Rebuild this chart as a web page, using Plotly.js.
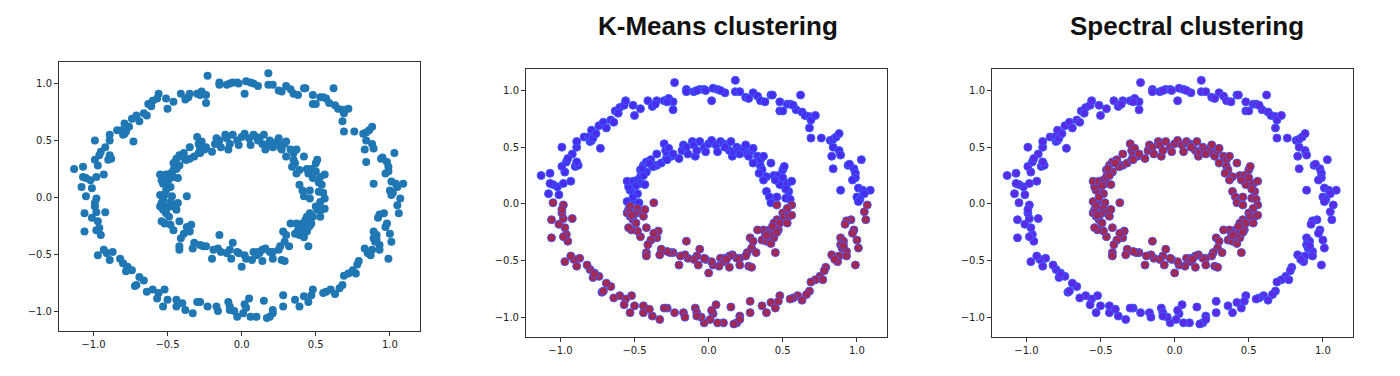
<!DOCTYPE html>
<html><head><meta charset="utf-8">
<script src="https://cdn.plot.ly/plotly-3.0.1.min.js"></script>
<style>html,body{margin:0;padding:0;background:#fff}#chart{width:1400px;height:376px}</style>
</head><body><div id="chart"></div>
<script>
// Outer ring, upper half (K-Means cluster A)
const outerUpperX = [-0.23,-0.15,-0.15,-0.10,-0.06,-0.03,-0.02,0.03,0.06,0.11,0.02,0.18,0.18,0.21,0.25,0.30,0.33,0.35,0.38,0.42,0.43,0.48,0.48,0.50,0.53,0.55,0.59,0.62,0.63,0.65,0.68,0.69,0.72,0.68,0.69,0.76,0.82,0.84,0.86,0.88,0.84,0.83,0.88,0.89,0.84,0.94,0.98,1.03,0.99,0.99,0.97,0.89,1.01,1.04,1.09,1.05,1.00,1.02,1.01,
  -1.08,-1.01,-1.02,-1.05,-1.07,-1.13,-1.07,-0.98,-0.93,-0.97,-0.99,-0.96,-0.90,-0.88,-0.89,-0.92,-0.89,-0.89,-0.99,-0.95,-0.84,-0.81,-0.80,-0.79,-0.78,-0.73,-0.79,-0.74,-0.71,-0.69,-0.66,-0.64,-0.63,-0.60,-0.57,-0.56,-0.51,-0.50,-0.46,-0.41,-0.38,-0.35,-0.30,-0.27,-0.24,-0.24,-0.28,-0.36,
  -0.08,0.08,0.27,0.57,0.95,-0.61,-0.76];
const outerUpperY = [1.07,1.01,0.99,0.99,1.01,1.01,1.00,1.02,1.01,0.98,0.91,1.09,0.99,0.99,0.94,0.98,0.95,0.91,0.90,0.96,0.96,0.90,0.82,0.82,0.88,0.88,0.83,0.96,0.81,0.78,0.77,0.74,0.78,0.67,0.58,0.58,0.56,0.57,0.59,0.62,0.50,0.42,0.47,0.43,0.31,0.34,0.31,0.39,0.27,0.23,0.21,0.12,0.14,0.12,0.12,0.09,0.06,0.04,0.02,
  0.09,0.08,0.15,0.17,0.18,0.25,0.27,0.18,0.20,0.28,0.33,0.37,0.33,0.34,0.37,0.44,0.50,0.55,0.50,0.40,0.59,0.59,0.55,0.56,0.58,0.49,0.65,0.69,0.72,0.67,0.74,0.72,0.82,0.85,0.87,0.91,0.87,0.78,0.84,0.91,0.86,0.91,0.91,0.93,0.90,0.83,0.90,0.88,
  1.00,1.00,0.93,0.87,0.35,0.80,0.62];
// Outer ring, lower half (K-Means cluster B)
const outerLowerX = [1.07,1.05,1.06,0.96,0.93,0.92,0.98,0.97,0.89,0.91,0.89,0.90,1.00,1.01,0.93,0.88,0.83,0.93,0.87,0.99,0.79,0.78,0.75,0.77,0.72,0.69,0.68,0.66,0.60,0.57,0.55,0.63,0.48,0.47,0.42,0.45,0.39,0.36,0.28,0.28,0.21,0.19,0.17,0.15,0.10,0.06,0.05,0.03,0.02,0.01,-0.03,-0.05,-0.09,-0.08,-0.08,-0.17,-0.16,-0.23,-0.28,-0.30,-0.33,-0.38,-0.44,-0.44,-0.50,-0.53,-0.52,-0.56,-0.57,-0.60,-0.64,-0.66,-0.69,-0.72,-0.71,-0.74,-0.77,-0.78,-0.80,-0.82,-0.87,-0.89,-0.91,-0.93,-0.97,-0.95,-0.96,-0.98,-0.97,-1.01,-0.92,-0.98,-0.99,-0.98,-1.06,-1.06,-1.05,
  0.91,0.85,0.21,-0.40,-0.77,-0.99];
const outerLowerY = [-0.01,-0.07,-0.14,-0.14,-0.15,-0.18,-0.23,-0.26,-0.30,-0.33,-0.36,-0.39,-0.32,-0.39,-0.42,-0.46,-0.45,-0.46,-0.51,-0.54,-0.56,-0.59,-0.64,-0.67,-0.67,-0.69,-0.77,-0.80,-0.81,-0.83,-0.84,-0.85,-0.81,-0.86,-0.87,-0.92,-0.96,-0.90,-0.86,-0.96,-0.99,-1.05,-1.06,-0.91,-1.05,-1.05,-0.89,-0.97,-0.94,-1.02,-1.05,-1.00,-0.92,-0.96,-0.99,-0.96,-1.00,-0.96,-0.92,-0.92,-1.02,-0.99,-0.96,-0.90,-0.90,-0.96,-0.81,-0.84,-0.89,-0.81,-0.83,-0.73,-0.70,-0.78,-0.77,-0.64,-0.61,-0.65,-0.58,-0.54,-0.48,-0.55,-0.49,-0.46,-0.51,-0.33,-0.27,-0.29,-0.21,-0.18,-0.13,-0.13,-0.08,-0.01,-0.14,-0.30,0.01,
  -0.37,-0.49,-1.02,-0.93,-0.62,-0.05];
// Inner ring, upper half
const innerUpperX = [-0.30,-0.29,-0.27,-0.28,-0.25,-0.24,-0.20,-0.18,-0.17,-0.15,-0.14,-0.11,-0.10,-0.09,-0.08,-0.06,-0.03,-0.02,0.00,0.02,0.05,0.06,0.08,0.10,0.12,0.14,0.15,0.16,0.17,0.19,0.20,0.21,0.24,0.25,0.26,0.27,0.29,0.30,0.30,0.33,0.35,0.37,0.35,0.36,0.42,0.34,0.39,0.37,0.44,0.47,0.50,0.51,0.48,0.53,0.56,0.50,0.39,0.41,0.42,0.46,
  0.52,0.54,0.55,
  -0.47,-0.52,-0.55,-0.50,-0.53,-0.54,-0.55,-0.51,-0.48,-0.46,-0.43,-0.46,-0.46,-0.44,-0.42,-0.39,-0.37,-0.35,-0.32,-0.29,-0.28,-0.42,-0.44,-0.38,-0.48,-0.51,-0.35,
  -0.49,-0.45,-0.40,0.11,0.45,0.52];
const innerUpperY = [0.53,0.47,0.49,0.43,0.42,0.44,0.40,0.47,0.52,0.50,0.44,0.55,0.52,0.42,0.47,0.55,0.50,0.46,0.53,0.56,0.52,0.46,0.55,0.53,0.52,0.47,0.55,0.42,0.46,0.50,0.47,0.44,0.49,0.52,0.44,0.42,0.47,0.49,0.36,0.42,0.39,0.42,0.33,0.30,0.36,0.27,0.24,0.21,0.25,0.25,0.30,0.33,0.17,0.18,0.20,0.23,0.11,0.06,0.01,0.06,
  0.05,0.11,0.04,
  0.01,0.02,0.02,0.09,0.12,0.15,0.20,0.20,0.21,0.18,0.17,0.24,0.30,0.34,0.37,0.39,0.33,0.34,0.36,0.39,0.39,0.28,0.25,0.33,0.09,0.06,0.44,
  0.16,0.31,0.36,0.50,0.21,0.13];
// Inner ring, lower half
const innerLowerX = [0.46,0.56,0.53,0.50,0.51,0.54,0.56,0.46,0.44,0.48,0.53,0.47,0.45,0.43,0.41,0.37,0.38,0.36,0.39,0.42,0.44,0.33,0.28,0.30,0.29,0.32,0.45,0.26,0.25,0.21,0.19,0.16,0.14,0.11,0.08,0.10,0.07,0.14,0.21,0.27,0.29,0.03,0.00,0.02,-0.02,-0.03,-0.06,-0.08,-0.10,-0.07,-0.14,-0.15,-0.16,-0.19,-0.20,-0.24,-0.26,-0.28,-0.32,-0.33,-0.35,-0.34,-0.37,-0.39,-0.41,-0.42,-0.42,-0.46,-0.48,-0.52,-0.54,-0.51,-0.53,-0.55,-0.54,-0.53,-0.48,-0.46,-0.44,-0.43,-0.37,-0.53,-0.42,-0.50,0.40,0.43,
  0.42,0.46,0.39,-0.52,-0.49,0.12];
const innerLowerY = [-0.01,-0.01,-0.04,-0.08,-0.11,-0.11,-0.10,-0.14,-0.17,-0.17,-0.17,-0.23,-0.26,-0.29,-0.23,-0.23,-0.29,-0.32,-0.33,-0.35,-0.30,-0.23,-0.30,-0.33,-0.39,-0.43,-0.43,-0.43,-0.46,-0.48,-0.48,-0.45,-0.46,-0.48,-0.48,-0.51,-0.55,-0.56,-0.54,-0.55,-0.56,-0.54,-0.61,-0.51,-0.49,-0.48,-0.40,-0.46,-0.49,-0.54,-0.48,-0.33,-0.45,-0.46,-0.54,-0.43,-0.43,-0.42,-0.40,-0.45,-0.30,-0.24,-0.26,-0.32,-0.36,-0.43,-0.46,-0.29,-0.24,-0.23,-0.21,-0.14,-0.11,-0.08,-0.05,-0.02,-0.04,-0.08,-0.11,-0.05,0.01,-0.07,-0.21,-0.09,-0.26,-0.20,
  -0.27,-0.25,-0.28,-0.10,-0.17,-0.49];

const panelTitles = ["", "K-Means clustering", "Spectral clustering"];
const tickValues = [-1.0, -0.5, 0.0, 0.5, 1.0];

const BLUE_FILL = '#4a2cf0', BLUE_EDGE = '#3b5cff';
const RED_CENTER = '#d8101c', RED_OUTER = '#7a3c78';
const MSIZE = 8;

function blueMarker(c){ return {size:MSIZE, color:c, line:{color:BLUE_EDGE, width:1}}; }
function redMarker(){ return {size:MSIZE, color:RED_CENTER, gradient:{type:'radial', color:RED_OUTER}, line:{color:BLUE_EDGE, width:1}}; }

const allX = outerUpperX.concat(outerLowerX, innerUpperX, innerLowerX);
const allY = outerUpperY.concat(outerLowerY, innerUpperY, innerLowerY);

const traces = [
  {x:allX, y:allY, xaxis:'x', yaxis:'y', type:'scatter', mode:'markers', marker:{size:MSIZE, color:'#1f77b4', line:{width:0}}},
  // K-Means
  {x:outerUpperX.concat(innerUpperX), y:outerUpperY.concat(innerUpperY), xaxis:'x2', yaxis:'y2', type:'scatter', mode:'markers', marker:blueMarker(BLUE_FILL)},
  {x:outerLowerX.concat(innerLowerX), y:outerLowerY.concat(innerLowerY), xaxis:'x2', yaxis:'y2', type:'scatter', mode:'markers', marker:redMarker()},
  // Spectral
  {x:outerUpperX.concat(outerLowerX), y:outerUpperY.concat(outerLowerY), xaxis:'x3', yaxis:'y3', type:'scatter', mode:'markers', marker:blueMarker('#5a2ae8')},
  {x:innerUpperX.concat(innerLowerX), y:innerUpperY.concat(innerLowerY), xaxis:'x3', yaxis:'y3', type:'scatter', mode:'markers', marker:redMarker()}
];

const W = 1400, H = 376;
function xa(l, r){
  return {domain:[l/W, r/W], range:[-1.232, 1.203], showgrid:false, zeroline:false, showline:true, mirror:true,
    linecolor:'#333', linewidth:1, ticks:'outside', ticklen:4, tickwidth:1, tickcolor:'#333',
    tickvals:tickValues, tickformat:'.1f', tickfont:{family:'DejaVu Sans', size:10, color:'#222'}, fixedrange:true};
}
function ya(t, b, anchor){
  const o = xa(0, 1);
  o.domain = [1 - b/H, 1 - t/H];
  o.range = [-1.175, 1.19];
  o.anchor = anchor;
  return o;
}
const layout = {
  width:W, height:H, margin:{l:0, r:0, t:0, b:0}, showlegend:false,
  paper_bgcolor:'#fff', plot_bgcolor:'#fff',
  xaxis: Object.assign(xa(59, 420), {anchor:'y'}),
  yaxis: ya(62, 331, 'x'),
  xaxis2: Object.assign(xa(526, 887), {anchor:'y2'}),
  yaxis2: ya(69, 337, 'x2'),
  xaxis3: Object.assign(xa(992, 1353), {anchor:'y3'}),
  yaxis3: ya(69, 337, 'x3'),
  annotations: [
    {text:'<b>'+panelTitles[1]+'</b>', xref:'paper', yref:'paper', x:718/W, y:1-26/H, xanchor:'center', yanchor:'middle', showarrow:false, font:{family:'Liberation Sans, Arial', size:26, color:'#111'}},
    {text:'<b>'+panelTitles[2]+'</b>', xref:'paper', yref:'paper', x:1187/W, y:1-26/H, xanchor:'center', yanchor:'middle', showarrow:false, font:{family:'Liberation Sans, Arial', size:26, color:'#111'}}
  ]
};
Plotly.newPlot('chart', traces, layout, {displayModeBar:false, staticPlot:true});
</script>
</body></html>
